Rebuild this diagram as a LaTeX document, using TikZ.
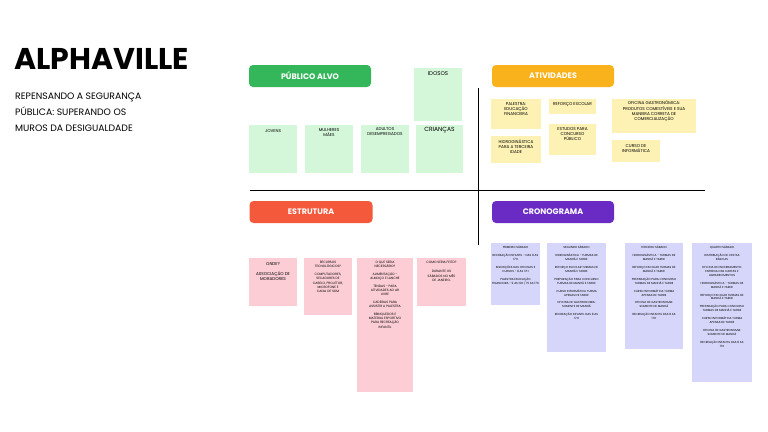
\documentclass[tikz,border=0pt]{standalone}
\usepackage{fontspec}
\setmainfont{Poppins}
\begin{document}
\begin{tikzpicture}[x=1pt,y=-1pt,
  hdr/.style={rounded corners=4pt,text=white,font=\fontsize{8}{9}\selectfont\bfseries,inner sep=0pt,align=center},
  tl/.style={anchor=north,align=center,font=\fontsize{4.2}{5.2}\selectfont,inner sep=0pt},
  tls/.style={anchor=north,align=center,font=\fontsize{3.2}{4.4}\selectfont,inner sep=0pt}]
\definecolor{gH}{HTML}{34B65A}\definecolor{gS}{HTML}{D4F7D9}
\definecolor{oH}{HTML}{F9B21B}\definecolor{yS}{HTML}{FDF2B3}
\definecolor{rH}{HTML}{F4593B}\definecolor{pS}{HTML}{FCCDD4}
\definecolor{vH}{HTML}{6A2BC4}\definecolor{lS}{HTML}{D6D6FB}
\useasboundingbox[fill=white] (0,0) rectangle (768,431);
\node[anchor=west,font=\fontsize{30}{34}\selectfont\bfseries,inner sep=0pt] (t) at (14,59) {ALPHAVILLE};
\node[anchor=north west,align=left,font=\fontsize{9.3}{16}\selectfont,inner sep=0pt] (st) at (15,93) {REPENSANDO A SEGURANÇA\\PÚBLICA: SUPERANDO OS\\MUROS DA DESIGUALDADE};
\coordinate (h1) at (250,190);\coordinate (h2) at (705,190);
\coordinate (v1) at (478,88);\coordinate (v2) at (478,245);
\draw[line width=0.8pt] (h1)--(h2); \draw[line width=0.8pt] (v1)--(v2);
% headers
\node[hdr,fill=gH,minimum width=122pt,minimum height=22pt] (pa) at (310,76) {PÚBLICO ALVO};
\node[hdr,fill=oH,minimum width=122pt,minimum height=22pt] (at) at (553,76) {ATIVIDADES};
\node[hdr,fill=rH,minimum width=123pt,minimum height=22pt] (es) at (311,212) {ESTRUTURA};
\node[hdr,fill=vH,minimum width=122pt,minimum height=22pt] (cr) at (553,212) {CRONOGRAMA};
% green
\foreach \n/\x/\y/\w/\h in {id/414/68/48/53, jo/249/125/48/48, mu/305/125/48/48, ad/361/125/48/48, cri/416/125/47/48}
  \fill[gS] (\x,\y) rectangle ++(\w,\h);
\node[tl,font=\fontsize{5.5}{6}\selectfont] (idt) at (438,71) {IDOSOS};
\node[tl] (jot) at (273,129) {JOVENS};
\node[tl] (mut) at (329,128) {MULHERES\\MÃES};
\node[tl] (adt) at (385,127) {ADULTOS\\DESEMPREGADOS};
\node[tl,font=\fontsize{6}{7}\selectfont] (crt) at (439.5,127) {CRIANÇAS};
% yellow
\foreach \x/\y/\w/\h in {491/99/50/30, 491/136/50/27, 549/99/47/15, 549/124/47/31, 612/99/84/34, 612/140/48/22}
  \fill[yS] (\x,\y) rectangle ++(\w,\h);
\node[tl] (y1) at (516,102) {PALESTRA:\\EDUCAÇÃO\\FINANCEIRA};
\node[tl] (y2) at (516,139) {HIDROGINÁSTICA\\PARA A TERCEIRA\\IDADE};
\node[tl] (y3) at (572.5,102) {REFORÇO ESCOLAR};
\node[tl] (y4) at (572.5,127) {ESTUDOS PARA\\CONCURSO\\PÚBLICO};
\node[tl] (y5) at (654,101) {OFICINA GASTRONÔMICA:\\PRODUTOS COMESTÍVEIS E SUA\\MANEIRA CORRETA DE\\COMERCIALIZAÇÃO};
\node[tl] (y6) at (636,144) {CURSO DE\\INFORMÁTICA};
% pink
\foreach \x/\y/\w/\h in {249/258/48/48, 304/258/48/57, 357/258/56/134, 417/258/49/48}
  \fill[pS] (\x,\y) rectangle ++(\w,\h);
\node[tl] (p1) at (273,262) {ONDE?\\[5pt]ASSOCIAÇÃO DE\\MORADORES};
\node[tls] (p2) at (328,261) {RECURSOS\\TECNOLÓGICOS?\\[3pt]COMPUTADORES,\\SECADORES DE\\CABELO, PROJETOR,\\MICROFONE E\\CAIXA DE SOM};
\node[tls] (p3) at (385,261) {O QUE SERIA\\NECESSÁRIO?\\[3pt]ALIMENTAÇÃO -\\ALMOÇO E LANCHE\\[3pt]TENDAS - PARA\\ATIVIDADES AO AR\\LIVRE\\[3pt]CADEIRAS PARA\\ASSISTIR A PALESTRA\\[3pt]BRINQUEDOS E\\MATERIAL ESPORTIVO\\PARA RECREAÇÃO\\INFANTIL};
\node[tls] (p4) at (441.5,261) {COMO SERIA FEITO?\\[5pt]DURANTE OS\\SÁBADOS NO MÊS\\DE JANEIRO.};
% lavender
\foreach \x/\y/\w/\h in {491/243/49/62, 547/243/59/109, 625/243/58/106, 692/243/60/139}
  \fill[lS] (\x,\y) rectangle ++(\w,\h);
\begin{scope}[every node/.style={tls,font=\fontsize{2.9}{3.9}\selectfont}]
\node (c1) at (515.5,246) {PRIMEIRO SÁBADO\\[4pt]RECREAÇÃO INFANTIL - DAS 8 AS\\17H\\[4pt]INSCRIÇÕES NAS OFICINAS E\\CURSOS - 8 AS 17H\\[4pt]PALESTRA EDUCAÇÃO\\FINANCEIRA - 9 AS 10H / 15 AS 17H};
\node (c2) at (576.5,246) {SEGUNDO SÁBADO\\[4pt]HIDROGINÁSTICA - TURMAS DE\\MANHÃ E TARDE\\[4pt]REFORÇO ESCOLAR TURMAS DE\\MANHÃ E TARDE\\[4pt]PREPARAÇÃO PARA CONCURSO\\TURMAS DE MANHÃ E TARDE\\[4pt]CURSO INFORMÁTICA TURMA\\APENAS DE TARDE\\[4pt]OFICINA DE GASTRONOMIA:\\SOMENTE DE MANHÃ\\[4pt]RECREAÇÃO INFANTIL DAS 8 AS\\17H};
\node (c3) at (654,246) {TERCEIRO SÁBADO\\[4pt]HIDROGINÁSTICA - TURMAS DE\\MANHÃ E TARDE\\[4pt]REFORÇO ESCOLAR TURMAS DE\\MANHÃ E TARDE\\[4pt]PREPARAÇÃO PARA CONCURSO\\TURMAS DE MANHÃ E TARDE\\[4pt]CURSO INFORMÁTICA TURMA\\APENAS DE TARDE\\[4pt]OFICINA DE GASTRONOMIA:\\SOMENTE DE MANHÃ\\[4pt]RECREAÇÃO INFANTIL DAS 8 AS\\17H};
\node (c4) at (722,246) {QUARTO SÁBADO\\[4pt]DISTRIBUIÇÃO DE CESTAS\\BÁSICAS\\[4pt]OFICINA DE ENCERRAMENTO:\\ENTREGA DAS CARTAS E\\AGRADECIMENTOS\\[4pt]HIDROGINÁSTICA - TURMAS DE\\MANHÃ E TARDE\\[4pt]REFORÇO ESCOLAR TURMAS DE\\MANHÃ E TARDE\\[4pt]PREPARAÇÃO PARA CONCURSO\\TURMAS DE MANHÃ E TARDE\\[4pt]CURSO INFORMÁTICA TURMA\\APENAS DE TARDE\\[4pt]OFICINA DE GASTRONOMIA:\\SOMENTE DE MANHÃ\\[4pt]RECREAÇÃO INFANTIL DAS 8 AS\\17H};
\end{scope}
\end{tikzpicture}
\end{document}
